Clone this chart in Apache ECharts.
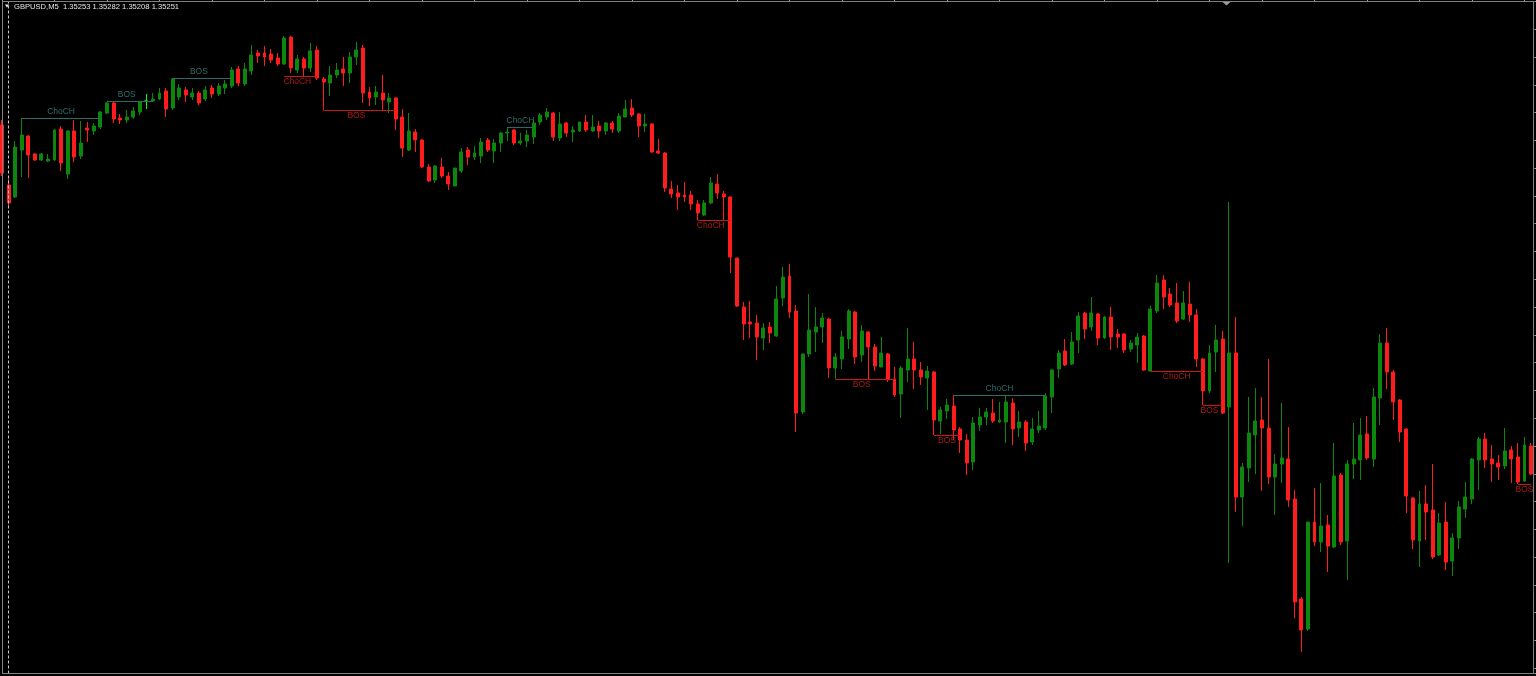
<!DOCTYPE html>
<html><head><meta charset="utf-8">
<script src="https://cdn.jsdelivr.net/npm/echarts@6/dist/echarts.min.js"></script>
<style>html,body{margin:0;padding:0;background:#000;overflow:hidden;width:1536px;height:676px;position:relative}#c{position:absolute;left:-8px;top:0;width:1544px;height:676px}</style>
</head><body><div id="c"></div>
<script>
// ---- header ----
const symbolText = 'GBPUSD,M5';
const quoteText = ['1.35253', '1.35282', '1.35208', '1.35251'];
const bidPrice = 1.35251;
const separatorBar = 1;

// ---- candles (M5 bars, left to right) ----
const openP = [
1.35639,1.35579,1.35567,1.35614,1.35628,1.35610,1.35604,1.35603,1.35604,1.35635,
1.35590,1.35633,1.35608,1.35636,1.35633,1.35637,1.35651,1.35661,1.35646,1.35644,
1.35647,1.35652,1.35663,1.35663,1.35665,1.35673,1.35656,1.35667,1.35674,1.35667,
1.35671,1.35665,1.35676,1.35670,1.35676,1.35678,1.35695,1.35680,1.35693,1.35711,
1.35711,1.35710,1.35706,1.35700,1.35727,1.35694,1.35705,1.35696,1.35714,1.35685,
1.35681,1.35689,1.35695,1.35691,1.35707,1.35716,1.35672,1.35667,1.35671,1.35662,
1.35666,1.35647,1.35614,1.35632,1.35624,1.35597,1.35584,1.35597,1.35588,1.35578,
1.35593,1.35614,1.35607,1.35608,1.35624,1.35613,1.35621,1.35631,1.35634,1.35621,
1.35623,1.35627,1.35642,1.35647,1.35651,1.35626,1.35641,1.35632,1.35633,1.35642,
1.35633,1.35638,1.35633,1.35641,1.35633,1.35647,1.35656,1.35650,1.35638,1.35640,
1.35613,1.35611,1.35575,1.35571,1.35569,1.35569,1.35560,1.35549,1.35561,1.35580,
1.35570,1.35567,1.35506,1.35457,1.35442,1.35441,1.35426,1.35437,1.35428,1.35466,
1.35488,1.35453,1.35352,1.35410,1.35432,1.35437,1.35445,1.35396,1.35405,1.35425,
1.35452,1.35409,1.35432,1.35417,1.35397,1.35410,1.35385,1.35370,1.35394,1.35405,
1.35394,1.35386,1.35392,1.35343,1.35353,1.35358,1.35335,1.35324,1.35302,1.35339,
1.35347,1.35351,1.35342,1.35342,1.35361,1.35336,1.35342,1.35322,1.35334,1.35336,
1.35367,1.35395,1.35413,1.35400,1.35424,1.35451,1.35437,1.35450,1.35426,1.35447,
1.35430,1.35430,1.35415,1.35419,1.35428,1.35393,1.35453,1.35484,1.35470,1.35461,
1.35445,1.35460,1.35449,1.35405,1.35373,1.35412,1.35425,1.35357,1.35411,1.35267,
1.35296,1.35329,1.35344,1.35336,1.35287,1.35300,1.35305,1.35265,1.35165,1.35135,
1.35242,1.35222,1.35239,1.35217,1.35289,1.35223,1.35300,1.35304,1.35330,1.35305,
1.35366,1.35421,1.35392,1.35364,1.35335,1.35266,1.35223,1.35260,1.35254,1.35209,
1.35242,1.35203,1.35226,1.35255,1.35265,1.35304,1.35325,1.35305,1.35301,1.35298,
1.35314,1.35307,1.35283,1.35318];
const closeP = [
1.35591,1.35561,1.35617,1.35629,1.35609,1.35604,1.35610,1.35605,1.35634,1.35601,
1.35633,1.35607,1.35621,1.35634,1.35638,1.35652,1.35661,1.35645,1.35644,1.35647,
1.35653,1.35662,1.35663,1.35665,1.35671,1.35655,1.35685,1.35676,1.35669,1.35671,
1.35661,1.35674,1.35670,1.35678,1.35680,1.35694,1.35681,1.35695,1.35709,1.35708,
1.35707,1.35704,1.35700,1.35726,1.35696,1.35705,1.35696,1.35713,1.35686,1.35682,
1.35689,1.35694,1.35691,1.35707,1.35714,1.35671,1.35666,1.35672,1.35664,1.35666,
1.35645,1.35616,1.35633,1.35624,1.35597,1.35583,1.35598,1.35588,1.35580,1.35596,
1.35612,1.35607,1.35611,1.35622,1.35614,1.35621,1.35631,1.35632,1.35621,1.35623,
1.35629,1.35641,1.35649,1.35652,1.35627,1.35640,1.35631,1.35634,1.35642,1.35634,
1.35637,1.35633,1.35641,1.35635,1.35648,1.35655,1.35649,1.35638,1.35640,1.35612,
1.35611,1.35576,1.35570,1.35567,1.35567,1.35560,1.35551,1.35561,1.35581,1.35571,
1.35567,1.35507,1.35458,1.35440,1.35440,1.35427,1.35436,1.35431,1.35465,1.35487,
1.35452,1.35351,1.35410,1.35434,1.35437,1.35446,1.35396,1.35407,1.35427,1.35453,
1.35407,1.35433,1.35417,1.35398,1.35411,1.35385,1.35369,1.35396,1.35405,1.35394,
1.35387,1.35393,1.35344,1.35354,1.35359,1.35334,1.35324,1.35301,1.35341,1.35347,
1.35352,1.35343,1.35344,1.35362,1.35335,1.35342,1.35321,1.35335,1.35338,1.35368,
1.35394,1.35411,1.35399,1.35422,1.35448,1.35435,1.35451,1.35426,1.35447,1.35427,
1.35427,1.35414,1.35421,1.35427,1.35394,1.35455,1.35481,1.35467,1.35459,1.35443,
1.35461,1.35449,1.35405,1.35373,1.35411,1.35424,1.35351,1.35411,1.35267,1.35297,
1.35331,1.35343,1.35336,1.35287,1.35300,1.35306,1.35264,1.35162,1.35134,1.35242,
1.35222,1.35238,1.35218,1.35288,1.35222,1.35300,1.35305,1.35329,1.35306,1.35367,
1.35421,1.35392,1.35362,1.35332,1.35268,1.35224,1.35260,1.35252,1.35207,1.35241,
1.35202,1.35226,1.35257,1.35267,1.35305,1.35325,1.35304,1.35300,1.35297,1.35313,
1.35305,1.35282,1.35319,1.35290];
const lowP = [
1.35588,1.35558,1.35566,1.35587,1.35586,1.35603,1.35603,1.35602,1.35603,1.35593,
1.35585,1.35602,1.35605,1.35622,1.35629,1.35635,1.35650,1.35641,1.35640,1.35641,
1.35645,1.35649,1.35655,1.35662,1.35664,1.35647,1.35654,1.35664,1.35662,1.35664,
1.35659,1.35663,1.35666,1.35668,1.35670,1.35676,1.35678,1.35678,1.35689,1.35701,
1.35698,1.35701,1.35698,1.35699,1.35691,1.35691,1.35688,1.35692,1.35684,1.35654,
1.35668,1.35686,1.35678,1.35681,1.35699,1.35661,1.35658,1.35659,1.35654,1.35651,
1.35634,1.35607,1.35613,1.35612,1.35596,1.35582,1.35581,1.35586,1.35574,1.35578,
1.35591,1.35599,1.35604,1.35601,1.35612,1.35601,1.35612,1.35623,1.35619,1.35619,
1.35617,1.35620,1.35639,1.35644,1.35623,1.35623,1.35627,1.35622,1.35632,1.35632,
1.35632,1.35626,1.35629,1.35631,1.35631,1.35647,1.35647,1.35627,1.35632,1.35611,
1.35610,1.35572,1.35566,1.35554,1.35562,1.35554,1.35544,1.35548,1.35560,1.35565,
1.35544,1.35491,1.35457,1.35424,1.35426,1.35404,1.35414,1.35421,1.35427,1.35458,
1.35446,1.35332,1.35350,1.35407,1.35412,1.35421,1.35386,1.35385,1.35395,1.35415,
1.35400,1.35402,1.35385,1.35393,1.35397,1.35382,1.35367,1.35346,1.35382,1.35375,
1.35379,1.35354,1.35329,1.35330,1.35345,1.35324,1.35311,1.35289,1.35294,1.35333,
1.35339,1.35341,1.35341,1.35321,1.35319,1.35327,1.35313,1.35319,1.35331,1.35334,
1.35351,1.35386,1.35398,1.35399,1.35411,1.35425,1.35433,1.35419,1.35425,1.35414,
1.35416,1.35411,1.35412,1.35401,1.35393,1.35393,1.35451,1.35455,1.35457,1.35441,
1.35444,1.35442,1.35397,1.35359,1.35371,1.35392,1.35350,1.35201,1.35252,1.35238,
1.35282,1.35290,1.35273,1.35280,1.35249,1.35281,1.35257,1.35146,1.35112,1.35133,
1.35218,1.35212,1.35192,1.35216,1.35219,1.35184,1.35285,1.35284,1.35304,1.35297,
1.35339,1.35375,1.35344,1.35322,1.35251,1.35215,1.35197,1.35224,1.35205,1.35208,
1.35194,1.35188,1.35215,1.35246,1.35260,1.35274,1.35296,1.35282,1.35284,1.35295,
1.35281,1.35280,1.35282,1.35289];
const highP = [
1.35644,1.35585,1.35623,1.35646,1.35629,1.35611,1.35611,1.35610,1.35635,1.35638,
1.35634,1.35644,1.35643,1.35642,1.35641,1.35653,1.35662,1.35662,1.35650,1.35654,
1.35657,1.35663,1.35670,1.35671,1.35676,1.35676,1.35686,1.35680,1.35677,1.35676,
1.35673,1.35678,1.35679,1.35681,1.35684,1.35697,1.35698,1.35701,1.35719,1.35714,
1.35718,1.35715,1.35711,1.35728,1.35728,1.35709,1.35707,1.35721,1.35718,1.35687,
1.35698,1.35701,1.35707,1.35712,1.35722,1.35719,1.35677,1.35678,1.35689,1.35671,
1.35667,1.35655,1.35651,1.35635,1.35625,1.35600,1.35599,1.35606,1.35592,1.35596,
1.35616,1.35617,1.35618,1.35626,1.35626,1.35625,1.35632,1.35637,1.35635,1.35631,
1.35634,1.35644,1.35651,1.35656,1.35652,1.35652,1.35642,1.35638,1.35642,1.35649,
1.35649,1.35643,1.35642,1.35643,1.35651,1.35664,1.35665,1.35651,1.35650,1.35641,
1.35625,1.35612,1.35583,1.35579,1.35582,1.35573,1.35564,1.35564,1.35587,1.35590,
1.35573,1.35568,1.35506,1.35462,1.35463,1.35449,1.35441,1.35442,1.35478,1.35497,
1.35500,1.35459,1.35410,1.35470,1.35457,1.35451,1.35446,1.35411,1.35433,1.35455,
1.35453,1.35439,1.35433,1.35420,1.35427,1.35411,1.35397,1.35398,1.35436,1.35422,
1.35402,1.35398,1.35393,1.35357,1.35365,1.35369,1.35337,1.35330,1.35347,1.35356,
1.35356,1.35365,1.35362,1.35368,1.35366,1.35353,1.35344,1.35346,1.35353,1.35371,
1.35395,1.35414,1.35425,1.35432,1.35452,1.35452,1.35467,1.35451,1.35448,1.35457,
1.35435,1.35431,1.35424,1.35431,1.35429,1.35458,1.35489,1.35489,1.35476,1.35481,
1.35473,1.35482,1.35455,1.35406,1.35419,1.35439,1.35433,1.35562,1.35447,1.35301,
1.35367,1.35376,1.35367,1.35405,1.35310,1.35361,1.35337,1.35274,1.35167,1.35242,
1.35276,1.35281,1.35249,1.35321,1.35291,1.35304,1.35341,1.35346,1.35348,1.35376,
1.35430,1.35436,1.35394,1.35365,1.35336,1.35267,1.35273,1.35279,1.35300,1.35251,
1.35262,1.35231,1.35263,1.35282,1.35306,1.35327,1.35331,1.35319,1.35309,1.35336,
1.35318,1.35321,1.35327,1.35321];

// ---- market-structure marks (BOS / ChoCH) ----
const structName  = ['ChoCH','BOS','BOS','ChoCH','ChoCH','ChoCH','BOS','ChoCH','BOS','BOS','ChoCH','BOS','BOS'];
const structBull  = [true,true,true,true,true,false,false,false,false,false,false,false,false];
const structFrom  = [3,16,26,77,145,43,49,106,127,142,175,183,231];
const structTo    = [15,23,35,81,159,48,60,111,136,146,183,186,233];
const structPrice = [1.35646,1.35663,1.35686,1.35637,1.35369,1.35688,1.35654,1.35544,1.35385,1.35329,1.35393,1.35359,1.35280];

const categories = openP.map((_, i) => String(i));
const candleData = openP.map((o, i) => [o, closeP[i], lowP[i], highP[i]]);

const BULL = '#0c860c', BEAR = '#ff1c1c', DOJI = '#00ff00';
const TEAL_LINE = '#2e6a6a', TEAL_TEXT = '#3f8585', RED_LINE = '#c81818', RED_TEXT = '#d42020';
const FRAME = '#808080';
const LABEL_FONT = 'Liberation Sans, Arial, sans-serif';

const structLines = structName.map((n, k) => [
  { coord: [categories[structFrom[k]], structPrice[k]],
    lineStyle: { color: structBull[k] ? TEAL_LINE : RED_LINE, width: 1, type: 'solid' },
    label: { show: false } },
  { coord: [categories[structTo[k]], structPrice[k]] }
]);
// text sits on the middle bar of each structure line
const structLabels = structName.map((n, k) => ({
  value: [categories[Math.floor((structFrom[k] + structTo[k]) / 2)], structPrice[k]],
  label: { show: true, formatter: n, position: structBull[k] ? 'top' : 'bottom', distance: 1,
           color: structBull[k] ? TEAL_TEXT : RED_TEXT, fontSize: 8.5, fontFamily: LABEL_FONT }
}));

// the canvas is shifted 8px left so the grid can start left of the visible frame
const OFF = 8;
const N = categories.length;
const BAR = 6.5625;                  // pixel pitch of one bar
const gridLeft = OFF + 2 - BAR / 2;  // first bar centred on the left frame
const gridWidth = N * BAR;

const chart = echarts.init(document.getElementById('c'), null, { renderer: 'canvas' });
chart.setOption({
  animation: false,
  backgroundColor: '#000000',
  grid: { left: gridLeft, top: 1.5, width: gridWidth, height: 672, containLabel: false },
  xAxis: {
    type: 'category', data: categories, boundaryGap: true,
    axisLine: { show: false },
    axisLabel: { show: false },
    axisTick: { show: true, inside: true, length: 2, interval: 7, alignWithLabel: true, lineStyle: { color: '#a0a0a0' } },
    splitLine: { show: false }
  },
  yAxis: [
    { type: 'value', min: 1.350905, max: 1.357625, show: false, splitLine: { show: false } },
    { type: 'value', position: 'right', min: 0, max: 672, interval: 27.78, inverse: true,
      axisLine: { show: false }, axisLabel: { show: false }, splitLine: { show: false },
      axisTick: { show: true, inside: false, length: 2.5, lineStyle: { color: '#a0a0a0' } } }
  ],
  series: [{
    type: 'candlestick',
    data: candleData,
    yAxisIndex: 0,
    barWidth: 3.4,
    clip: false,
    itemStyle: { color: BULL, color0: BEAR, borderColor: BULL, borderColor0: BEAR, borderColorDoji: DOJI, borderWidth: 1 },
    markLine: {
      silent: true, symbol: ['none', 'none'], animation: false,
      data: [
        { yAxis: bidPrice, lineStyle: { color: '#7a7a7a', width: 1, type: 'solid' }, label: { show: false } },
        { xAxis: categories[separatorBar], lineStyle: { color: '#c8c8c8', width: 1, type: [3, 2] }, label: { show: false } }
      ].concat(structLines)
    }
  }, {
    type: 'scatter',
    yAxisIndex: 0,
    silent: true,
    symbolSize: 1,
    itemStyle: { color: 'rgba(0,0,0,0)' },
    data: structLabels,
    z: 5
  }],
  graphic: [
    { type: 'line', z: 100, shape: { x1: OFF + 2.5, y1: 1, x2: OFF + 2.5, y2: 674 }, style: { stroke: FRAME, lineWidth: 1 } },
    { type: 'line', z: 100, shape: { x1: OFF + 2, y1: 1.5, x2: OFF + 1534, y2: 1.5 }, style: { stroke: FRAME, lineWidth: 1 } },
    { type: 'line', z: 100, shape: { x1: OFF + 1533.5, y1: 1, x2: OFF + 1533.5, y2: 674 }, style: { stroke: FRAME, lineWidth: 1 } },
    { type: 'line', z: 100, shape: { x1: OFF + 2, y1: 673.5, x2: OFF + 1534, y2: 673.5 }, style: { stroke: FRAME, lineWidth: 1 } },
    { type: 'polygon', z: 100, shape: { points: [[OFF + 5, 4.5], [OFF + 9, 4.5], [OFF + 7, 7.8]] }, style: { fill: '#e6e6e6' } },
    { type: 'polygon', z: 100, shape: { points: [[OFF + 1222.5, 2], [OFF + 1230.5, 2], [OFF + 1226.5, 5.6]] }, style: { fill: '#9a9a9a' } },
    { type: 'text', z: 100, left: OFF + 14, top: 3,
      style: { text: symbolText + '  ' + quoteText.join(' '), fill: '#e6e6e6', font: '7.6px "Liberation Sans", Arial, sans-serif' } }
  ]
});
</script>
</body></html>
